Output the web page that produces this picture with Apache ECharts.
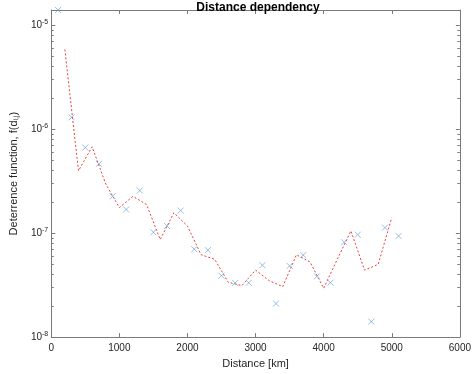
<!DOCTYPE html>
<html>
<head>
<meta charset="utf-8">
<script src="https://cdn.jsdelivr.net/npm/echarts@6/dist/echarts.min.js"></script>
<style>html,body{margin:0;padding:0;background:#fff}#c{width:474px;height:374px}</style>
</head>
<body>
<div id="c"></div>
<script>
// Observed values (blue crosses)
const obsDist = [100, 300, 500, 700, 900, 1100, 1300, 1500, 1700, 1900, 2100, 2300, 2500, 2700, 2900, 3100, 3300, 3500, 3700, 3900, 4100, 4300, 4500, 4700, 4900, 5100];
const obsVal = [1.4e-5, 1.3e-6, 6.65e-7, 4.63e-7, 2.26e-7, 1.69e-7, 2.57e-7, 1.02e-7, 1.17e-7, 1.65e-7, 7.0e-8, 6.86e-8, 3.9e-8, 3.32e-8, 3.33e-8, 4.92e-8, 2.1e-8, 4.84e-8, 6.15e-8, 3.84e-8, 3.34e-8, 8.17e-8, 9.66e-8, 1.41e-8, 1.13e-7, 9.37e-8];
// Fitted values (red dashed line)
const fitDist = [200, 400, 600, 800, 1000, 1200, 1400, 1600, 1800, 2000, 2200, 2400, 2600, 2800, 3000, 3200, 3400, 3600, 3800, 4000, 4200, 4400, 4600, 4800, 5000];
const fitVal = [5.84e-6, 3.98e-7, 6.76e-7, 2.97e-7, 1.76e-7, 2.26e-7, 1.88e-7, 8.67e-8, 1.57e-7, 1.17e-7, 6.2e-8, 5.6e-8, 3.36e-8, 3.13e-8, 4.41e-8, 3.49e-8, 3.06e-8, 6.19e-8, 5.28e-8, 2.95e-8, 5.6e-8, 1.05e-7, 4.41e-8, 5.0e-8, 1.41e-7];
// Axis ticks
const xTicks = [0, 1000, 2000, 3000, 4000, 5000, 6000];
const yMajor = [1e-8, 1e-7, 1e-6, 1e-5];
const yMinor = [];
yMajor.forEach(function (d) { for (let k = 2; k <= 9; k++) { const v = d * k; if (v <= 1.4e-5) yMinor.push(+v.toPrecision(3)); } });

const axisColor = '#7a7a7a';
const txtColor = '#262626';
const font = 'Liberation Sans, Arial, Helvetica, sans-serif';

const chart = echarts.init(document.getElementById('c'), null, {renderer: 'canvas'});

function yLab(v) {
  const e = Math.log10(v);
  if (Math.abs(e - Math.round(e)) > 1e-6) return '';
  return '{b|10}{s|' + Math.round(e) + '}';
}

const yBase = {
  type: 'log', min: 1e-8, max: 1.4e-5, logBase: 10,
  splitLine: {show: false}, minorTick: {show: false}
};

chart.setOption({
  animation: false,
  title: {
    text: 'Distance dependency', left: 253, top: -3, textAlign: 'center',
    textStyle: {fontFamily: font, fontSize: 12, fontWeight: 'bold', color: '#000'}
  },
  grid: {left: 42.7, right: 11, top: 10, bottom: 31.3, containLabel: false},
  xAxis: [{
    type: 'value', min: 0, max: 6000, interval: 1000, position: 'bottom',
    name: 'Distance [km]', nameLocation: 'middle', nameGap: 20,
    nameTextStyle: {fontFamily: font, fontSize: 11, color: txtColor},
    axisLine: {show: true, onZero: false, lineStyle: {color: axisColor, width: 1}},
    axisTick: {show: true, inside: true, length: 4, lineStyle: {color: axisColor}, customValues: xTicks},
    axisLabel: {fontFamily: font, fontSize: 10, color: txtColor, margin: 6, customValues: xTicks,
      formatter: function (v) { return String(v); }},
    splitLine: {show: false}
  }, {
    type: 'value', min: 0, max: 6000, interval: 1000, position: 'top',
    axisLine: {show: true, onZero: false, lineStyle: {color: axisColor, width: 1}},
    axisTick: {show: true, inside: true, length: 4, lineStyle: {color: axisColor}, customValues: xTicks},
    axisLabel: {show: false}, splitLine: {show: false}
  }],
  yAxis: [Object.assign({}, yBase, {
    position: 'left',
    name: '{n|Deterrence function, f(d}{sub|i,j}{n|)}', nameLocation: 'middle', nameGap: 28, nameRotate: 90,
    nameTextStyle: {rich: {
      n: {fontFamily: font, fontSize: 11, color: txtColor},
      sub: {fontFamily: font, fontSize: 7, color: txtColor, verticalAlign: 'bottom', padding: [6, 0, 0, 0]}
    }},
    axisLine: {show: true, lineStyle: {color: axisColor, width: 1}},
    axisTick: {show: true, inside: true, length: 4, lineStyle: {color: axisColor}, customValues: yMajor},
    axisLabel: {show: true, margin: 3, customValues: yMajor, formatter: yLab, rich: {
      b: {fontFamily: font, fontSize: 10, color: txtColor},
      s: {fontFamily: font, fontSize: 7, color: txtColor, verticalAlign: 'top', padding: [0, 0, 6, 0]}
    }}
  }), Object.assign({}, yBase, {
    position: 'left',
    axisLine: {show: false},
    axisTick: {show: true, inside: true, length: 2.5, lineStyle: {color: axisColor}, customValues: yMinor},
    axisLabel: {show: false}
  }), Object.assign({}, yBase, {
    position: 'right',
    axisLine: {show: true, lineStyle: {color: axisColor, width: 1}},
    axisTick: {show: true, inside: true, length: 4, lineStyle: {color: axisColor}, customValues: yMajor},
    axisLabel: {show: false}
  }), Object.assign({}, yBase, {
    position: 'right',
    axisLine: {show: false},
    axisTick: {show: true, inside: true, length: 2.5, lineStyle: {color: axisColor}, customValues: yMinor},
    axisLabel: {show: false}
  })],
  series: [{
    name: 'fit', type: 'line', xAxisIndex: 0, yAxisIndex: 0,
    data: fitDist.map(function (d, i) { return [d, fitVal[i]]; }),
    showSymbol: false, symbol: 'none',
    lineStyle: {color: '#e8413a', width: 1, type: [2, 2]},
    z: 2
  }, {
    name: 'observed', type: 'scatter', xAxisIndex: 0, yAxisIndex: 0, clip: false,
    data: obsDist.map(function (d, i) { return [d, obsVal[i]]; }),
    symbol: 'path://M0,0L10,10M10,0L0,10', symbolSize: 6,
    itemStyle: {color: 'transparent', borderColor: '#5a9bd8', borderWidth: 0.8},
    z: 3
  }]
});
</script>
</body>
</html>
